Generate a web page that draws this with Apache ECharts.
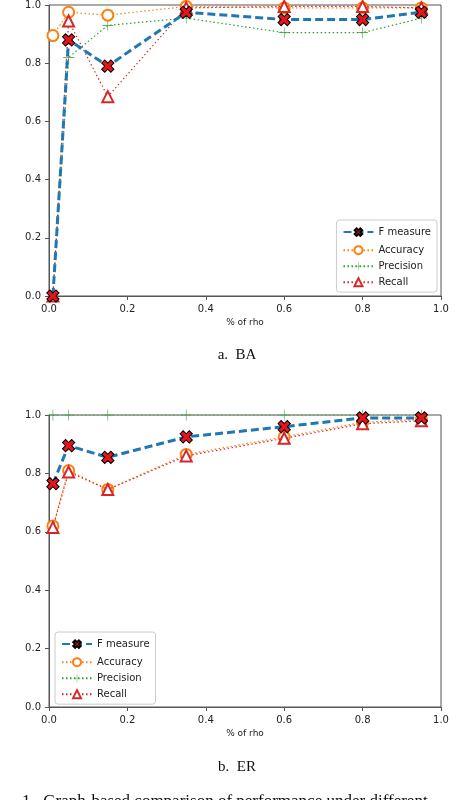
<!DOCTYPE html>
<html><head><meta charset="utf-8">
<script src="https://cdn.jsdelivr.net/npm/echarts@6/dist/echarts.min.js"></script>
<style>html,body{margin:0;padding:0;background:#fff}#c{width:474px;height:800px}</style>
</head><body><div id="c"></div>
<script>
var rho = [0.01, 0.05, 0.15, 0.35, 0.6, 0.8, 0.95];
var xTicks = [0.0, 0.2, 0.4, 0.6, 0.8, 1.0];
var baF = [0, 0.88, 0.79, 0.975, 0.95, 0.95, 0.975];
var baAcc = [0.895, 0.975, 0.965, 0.995, 0.99, 0.99, 0.99];
var baPrec = [0, 0.82, 0.93, 0.955, 0.905, 0.905, 0.955];
var baRec = [0, 0.945, 0.685, 0.99, 0.995, 0.995, 0.99];
var erF = [0.765, 0.895, 0.855, 0.925, 0.96, 0.99, 0.99];
var erAcc = [0.62, 0.81, 0.745, 0.865, 0.925, 0.975, 0.985];
var erPrec = [1, 1, 1, 1, 1, 1, 1];
var erRec = [0.615, 0.805, 0.745, 0.86, 0.92, 0.97, 0.98];

var XSYM = 'path://M-1,-3H1V-1H3V1H1V3H-1V1H-3V-1H-1Z';
var PLUS = 'path://M-0.15,-3H0.15V-0.15H3V0.15H0.15V3H-0.15V0.15H-3V-0.15H-0.15Z';
function pts(v){return rho.map(function(x,i){return [x,v[i]];});}
function mk(idx, f, a, p, r){
  return [
    {name:'F measure',type:'line',xAxisIndex:idx,yAxisIndex:idx,data:pts(f),symbol:XSYM,symbolRotate:45,symbolSize:13,
     lineStyle:{color:'#1f77b4',width:3,type:[8,4]},itemStyle:{color:'#e8141c',borderColor:'#000',borderWidth:1},z:5},
    {name:'Accuracy',type:'line',xAxisIndex:idx,yAxisIndex:idx,data:pts(a),symbol:'emptyCircle',symbolSize:11,
     lineStyle:{color:'#ff7f0e',width:1.2,type:[1.5,2.5]},itemStyle:{color:'#ff7f0e',borderWidth:0.8},z:3},
    {name:'Precision',type:'line',xAxisIndex:idx,yAxisIndex:idx,data:pts(p),symbol:PLUS,symbolSize:11,
     lineStyle:{color:'#2ca02c',width:1.2,type:[1.5,2.5]},itemStyle:{color:'#2ca02c',borderWidth:0},z:2},
    {name:'Recall',type:'line',xAxisIndex:idx,yAxisIndex:idx,data:pts(r),symbol:'emptyTriangle',symbolSize:11,
     lineStyle:{color:'#d62728',width:1.2,type:[1.5,2.5]},itemStyle:{color:'#d62728',borderWidth:0.8},z:4}
  ];
}
var axL = {fontSize:10,color:'#222',fontFamily:'DejaVu Sans'};
function xa(i){return {type:'value',gridIndex:i,min:0,max:1,interval:0.2,name:'% of rho',nameLocation:'middle',nameGap:22,
  nameTextStyle:{fontSize:9,color:'#222',fontFamily:'DejaVu Sans'},
  axisLine:{lineStyle:{color:'#555'}},axisTick:{length:4,lineStyle:{color:'#555'}},splitLine:{show:false},
  axisLabel:Object.assign({formatter:function(v){return v.toFixed(1);}},axL)};}
function ya(i){return {type:'value',gridIndex:i,min:0,max:1,interval:0.2,
  axisLine:{show:true,lineStyle:{color:'#555'}},axisTick:{show:true,length:4,lineStyle:{color:'#555'}},splitLine:{show:false},
  axisLabel:Object.assign({formatter:function(v){return v.toFixed(1);}},axL)};}
var names=['F measure','Accuracy','Precision','Recall'];
var lg = {data:names,orient:'vertical',itemWidth:30,itemHeight:10,itemGap:6,padding:[5,6],
  borderColor:'#ccc',borderWidth:1,borderRadius:3,backgroundColor:'#fff',
  textStyle:{fontSize:10,color:'#222',fontFamily:'DejaVu Sans'},selectedMode:false};
var opt = {
  animation:false,
  grid:[{left:49,right:33,top:5,bottom:504,show:true,borderColor:'#555',borderWidth:1},
        {left:49,right:33,top:415,bottom:93,show:true,borderColor:'#555',borderWidth:1}],
  xAxis:[xa(0),xa(1)], yAxis:[ya(0),ya(1)],
  legend:[Object.assign({right:37,top:220},lg),Object.assign({left:55,top:632},lg)],
  series: mk(0,baF,baAcc,baPrec,baRec).concat(mk(1,erF,erAcc,erPrec,erRec)),
  graphic:[
    {type:'text',left:'center',top:348,style:{text:'a.  BA',font:'15px "Liberation Serif"',fill:'#111'}},
    {type:'text',left:'center',top:760,style:{text:'b.  ER',font:'15px "Liberation Serif"',fill:'#111'}},
    {type:'text',left:22,top:793,style:{text:'1.  Graph-based comparison of performance under different',font:'17px "Liberation Serif"',fill:'#111'}}
  ]
};
echarts.init(document.getElementById('c')).setOption(opt);
</script></body></html>
